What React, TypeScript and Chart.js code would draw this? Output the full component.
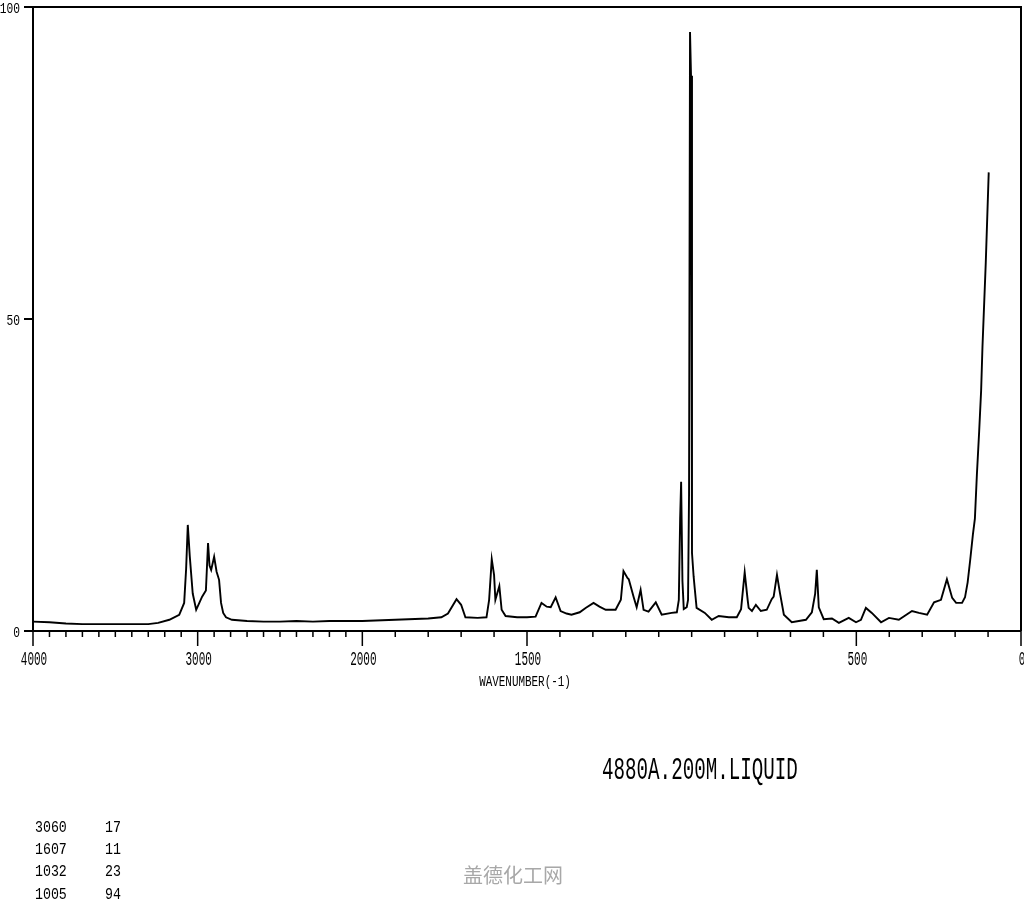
import React, { useEffect, useRef } from "react";
import { Chart, registerables } from "chart.js";

Chart.register(...registerables);

// ---- data (Raman spectrum, wavenumber cm-1 vs relative intensity) ----
const wavenumbers = [
  4000, 3900, 3800, 3700, 3600, 3500, 3400, 3300, 3240, 3172, 3112, 3082, 3070, 3060, 3048, 3030, 3009, 2990, 2973,
  2950, 2937, 2928, 2918, 2900, 2885, 2870, 2858, 2845, 2828, 2792, 2700, 2600, 2500, 2400, 2300, 2200, 2100, 2000,
  1900, 1800, 1760, 1740, 1714, 1700, 1687, 1650, 1623, 1615, 1607, 1600, 1596, 1584, 1577, 1565, 1530, 1500, 1474,
  1456, 1440, 1428, 1413, 1398, 1380, 1365, 1340, 1322, 1298, 1280, 1261, 1231, 1215, 1207, 1195, 1191, 1176, 1167,
  1155, 1146, 1131, 1109, 1091, 1061, 1045, 1039, 1035, 1032, 1028, 1024, 1015, 1011, 1008, 1005, 1002, 999, 994,
  991, 985, 960, 939, 918, 887, 863, 850, 839, 830, 827, 817, 805, 790, 772, 757, 751, 741, 732, 720, 696, 653, 635,
  625, 620, 614, 599, 574, 553, 523, 501, 486, 471, 453, 425, 401, 371, 331, 310, 285, 264, 243, 225, 209, 197, 179,
  170, 162, 154, 146, 140, 134, 127, 121, 117, 107, 98,
];
const intensities = [
  1.5, 1.4, 1.2, 1.1, 1.1, 1.1, 1.1, 1.1, 1.3, 1.8, 2.6, 4.5, 10, 17, 12, 6, 3.4, 4.5, 5.5,
  6.5, 14.1, 10.5, 9.8, 11.9, 9.5, 8.2, 4.5, 2.9, 2.2, 1.8, 1.6, 1.5, 1.5, 1.6, 1.5, 1.6, 1.6, 1.6,
  1.8, 2.0, 2.2, 2.8, 5.1, 4.2, 2.2, 2.1, 2.2, 5, 11.5, 9, 5, 7.2, 3.4, 2.4, 2.2, 2.2, 2.3,
  4.5, 3.9, 3.8, 5.4, 3.2, 2.8, 2.6, 3.0, 3.7, 4.5, 3.9, 3.4, 3.4, 5, 9.6, 8.5, 8.3, 5.4, 3.8,
  6.6, 3.4, 3.1, 4.6, 2.6, 2.9, 3.0, 5, 18, 23.9, 8, 3.5, 3.8, 5, 21.8, 96, 89, 12.5, 8.7,
  7, 3.7, 2.9, 1.8, 2.4, 2.2, 2.2, 3.5, 9.4, 5, 3.7, 3.2, 4.2, 3.2, 3.4, 5.1, 5.5, 9.0, 6.1, 2.6, 1.4, 1.8, 3,
  6, 9.8, 3.8, 1.9, 2.0, 1.3, 2.1, 1.4, 1.8, 3.7, 2.9, 1.4, 2.1, 1.8, 3.2, 2.9, 2.6, 4.6, 5.0, 8.3, 5.3, 4.5, 4.5,
  5.4, 7.8, 11.5, 15.5, 18, 25, 32, 38.6, 45.5, 59, 73.5,
];

const xMinorStep = 100;
const xRangeStart = 4000;
const xRangeEnd = 0;
const xMajorTicks = [4000, 3000, 2000, 1500, 500, 0];
const xMajorLabels = ["4000", "3000", "2000", "1500", "500", "0"];
const yTicks = [0, 50, 100];
const yTickLabels = ["0", "50", "100"];
const xAxisTitle = "WAVENUMBER(-1)";
const sampleLabel = "4880A.200M.LIQUID";
const peakWavenumberLabels = ["3060", "1607", "1032", "1005"];
const peakIntensityLabels = ["17", "11", "23", "94"];
const watermark = "盖德化工网";

// The spectrum axis has two scales: 4000-2000 compressed to half the scale of 2000-0.
function axisPos(w: number): number {
  return w >= 2000 ? (4000 - w) / 2 : 1000 + (2000 - w);
}

const MONO = '"Liberation Mono", "DejaVu Sans Mono", monospace';

function condensedText(
  ctx: CanvasRenderingContext2D,
  text: string,
  x: number,
  y: number,
  size: number,
  sx: number,
  align: CanvasTextAlign
) {
  ctx.save();
  ctx.translate(x, y);
  ctx.scale(sx, 1);
  ctx.font = `${size}px ${MONO}`;
  ctx.textAlign = align;
  ctx.textBaseline = "middle";
  ctx.fillStyle = "#000";
  ctx.fillText(text, 0, 0);
  ctx.restore();
}

const axesPlugin = {
  id: "spectrumAxes",
  afterDraw(chart: any) {
    const { ctx, chartArea, scales } = chart;
    const { left, right, top, bottom } = chartArea;
    const xs = scales.x;
    const ys = scales.y;
    ctx.save();
    ctx.strokeStyle = "#000";
    ctx.lineWidth = 2;
    ctx.beginPath();
    // frame
    ctx.moveTo(left, top);
    ctx.lineTo(right, top);
    ctx.lineTo(right, bottom);
    ctx.moveTo(left, top);
    ctx.lineTo(left, bottom);
    ctx.lineTo(right, bottom);
    ctx.stroke();

    // y ticks
    ctx.beginPath();
    yTicks.forEach((v) => {
      const py = ys.getPixelForValue(v);
      ctx.moveTo(left - 9, py);
      ctx.lineTo(left, py);
    });
    ctx.stroke();

    // x ticks
    ctx.lineWidth = 1.5;
    ctx.beginPath();
    for (let w = xRangeStart; w >= xRangeEnd; w -= xMinorStep) {
      const px = xs.getPixelForValue(axisPos(w));
      const major = xMajorTicks.includes(w);
      ctx.moveTo(px, bottom);
      ctx.lineTo(px, bottom + (major ? 15 : 6));
    }
    ctx.stroke();

    // labels
    xMajorTicks.forEach((w, i) => {
      const px = xs.getPixelForValue(axisPos(w));
      condensedText(ctx, xMajorLabels[i], px + 1, bottom + 29, 20, 0.55, "center");
    });
    yTicks.forEach((v, i) => {
      const py = ys.getPixelForValue(v);
      condensedText(ctx, yTickLabels[i], left - 13, py + 2, 15, 0.75, "right");
    });
    condensedText(ctx, xAxisTitle, (left + right) / 2 - 2, bottom + 51, 14, 0.78, "center");
    ctx.restore();
  },
};

export default function App() {
  const canvasRef = useRef<HTMLCanvasElement | null>(null);

  useEffect(() => {
    const canvas = canvasRef.current;
    if (!canvas) return;
    const chart = new Chart(canvas, {
      type: "line",
      data: {
        datasets: [
          {
            data: wavenumbers.map((w, i) => ({ x: axisPos(w), y: intensities[i] })),
            borderColor: "#000",
            borderWidth: 1.9,
            pointRadius: 0,
            tension: 0,
            fill: false,
          },
        ],
      },
      options: {
        animation: false,
        responsive: false,
        maintainAspectRatio: false,
        layout: { padding: { left: 33, top: 7, right: 3, bottom: 269 } },
        scales: {
          x: { type: "linear", display: false, min: axisPos(xRangeStart), max: axisPos(xRangeEnd) },
          y: { type: "linear", display: false, min: 0, max: 100 },
        },
        plugins: { legend: { display: false }, tooltip: { enabled: false } },
      },
      plugins: [axesPlugin],
    });
    return () => chart.destroy();
  }, []);

  const textBase: React.CSSProperties = {
    position: "absolute",
    fontFamily: MONO,
    lineHeight: 1,
    whiteSpace: "pre",
    color: "#000",
    transformOrigin: "left top",
  };

  return (
    <div style={{ position: "absolute", left: 0, top: 0, width: 1024, height: 900, background: "#fff", overflow: "hidden" }}>
      <canvas ref={canvasRef} width={1024} height={900} style={{ position: "absolute", left: 0, top: 0, width: 1024, height: 900 }} />
      <div style={{ ...textBase, left: 602, top: 755, fontSize: 32, transform: "scaleX(0.6)" }}>{sampleLabel}</div>
      {peakWavenumberLabels.map((lab, i) => (
        <React.Fragment key={lab}>
          <div style={{ ...textBase, left: 35, top: 818.5 + i * 22.4, fontSize: 17, transform: "scaleX(0.78)" }}>{lab}</div>
          <div style={{ ...textBase, left: 105, top: 818.5 + i * 22.4, fontSize: 17, transform: "scaleX(0.78)" }}>
            {peakIntensityLabels[i]}
          </div>
        </React.Fragment>
      ))}
      <div
        style={{
          position: "absolute",
          left: 463,
          top: 865,
          fontSize: 20,
          lineHeight: 1,
          whiteSpace: "pre",
          color: "#a8a8a8",
          fontFamily: '"Noto Sans CJK SC", sans-serif',
        }}
      >
        {watermark}
      </div>
    </div>
  );
}
